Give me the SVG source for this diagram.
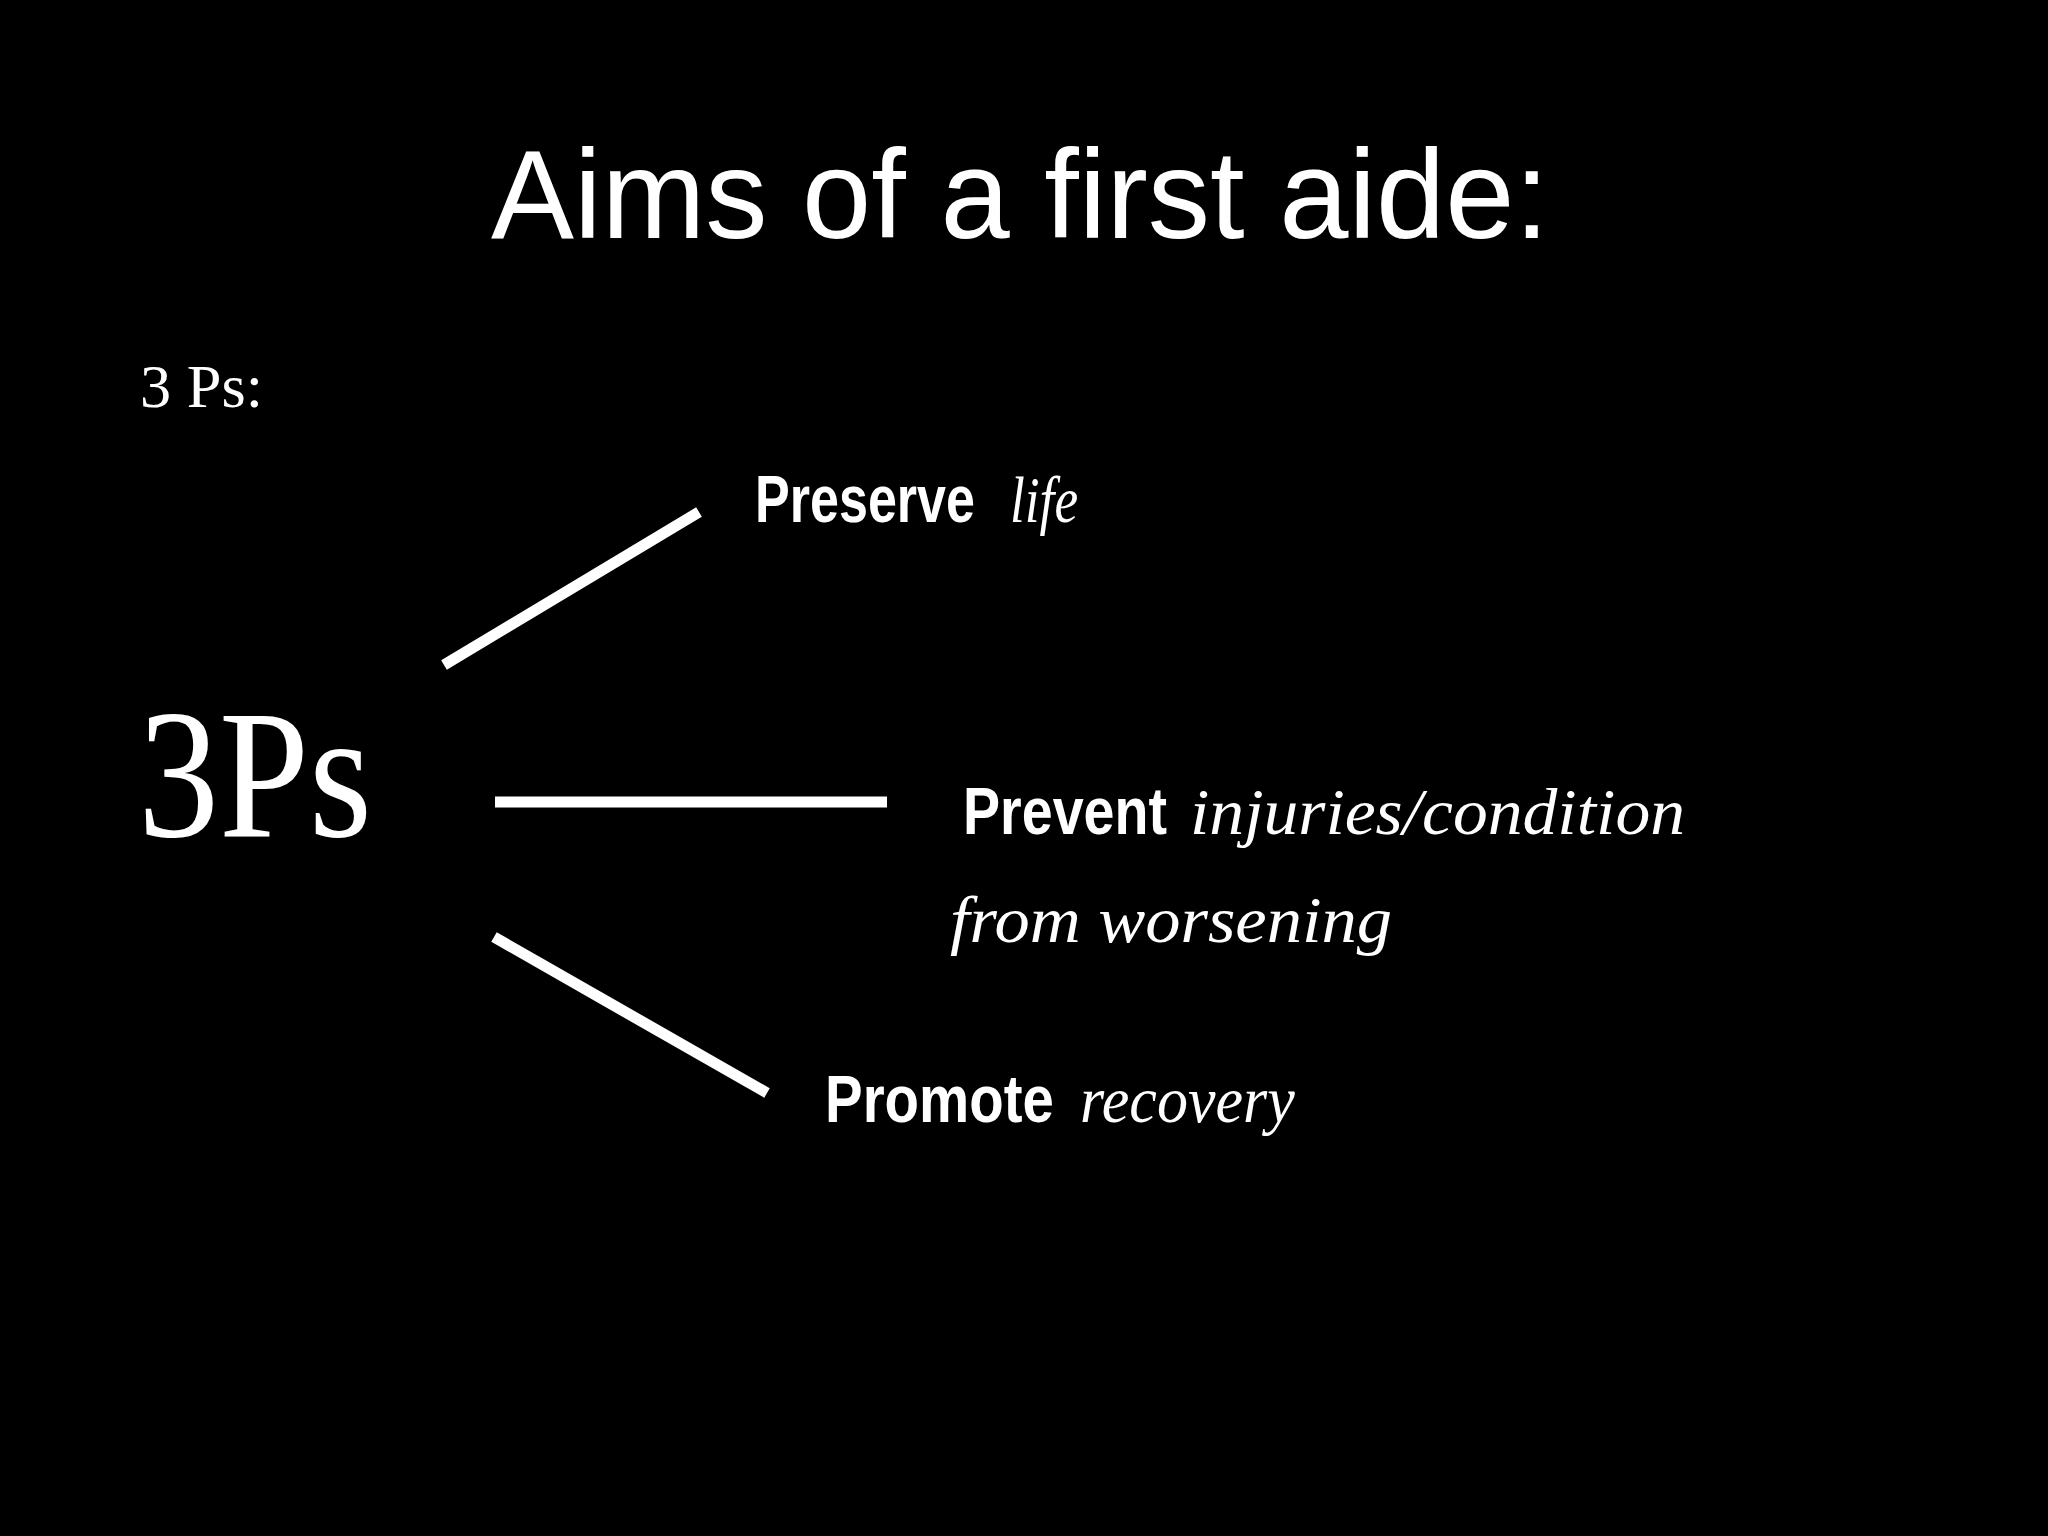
<svg xmlns="http://www.w3.org/2000/svg" width="2048" height="1536" viewBox="0 0 2048 1536">
<style>
.t{fill:#fff;font-family:"Liberation Serif","Times New Roman",serif}
.title{fill:#fff;font-family:"Liberation Sans",Arial,sans-serif;font-size:126px}
.b{fill:#fff;font-family:"Liberation Sans",Arial,sans-serif;font-weight:bold;font-size:66px}
.i{fill:#fff;font-family:"Liberation Serif","Times New Roman",serif;font-style:italic;font-size:66px}
.ln{stroke:#fff;stroke-width:11;fill:none}
</style>
<rect width="2048" height="1536" fill="#000"/>
<g id="title"><text class="title" x="491" y="238" textLength="1058" lengthAdjust="spacingAndGlyphs">Aims of a first aide:</text></g>
<g id="subtitle"><text class="t" x="140" y="407" font-size="62" textLength="123" lengthAdjust="spacingAndGlyphs">3 Ps:</text></g>
<g id="root"><text class="t" x="138" y="836" font-size="184" textLength="234" lengthAdjust="spacingAndGlyphs">3Ps</text></g>
<g id="preserve">
<text class="b" transform="translate(755,522) scale(0.789,1)">Preserve</text>
<text class="i" transform="translate(1010,522) scale(0.807,1)">life</text>
</g>
<g id="prevent">
<text class="b" transform="translate(963,834) scale(0.843,1)">Prevent</text>
<text class="i" x="1190" y="834" textLength="495" lengthAdjust="spacingAndGlyphs">injuries/condition</text>
<text class="i" x="950" y="942" textLength="442" lengthAdjust="spacingAndGlyphs">from worsening</text>
</g>
<g id="promote">
<text class="b" transform="translate(825,1122) scale(0.855,1)">Promote</text>
<text class="i" transform="translate(1080,1122) scale(0.94,1)">recovery</text>
</g>
<g id="connectors">
<line class="ln" x1="444" y1="665" x2="699" y2="512"/>
<line class="ln" x1="495" y1="802" x2="887" y2="802" stroke-width="12"/>
<line class="ln" x1="494" y1="937" x2="767" y2="1093"/>
</g>
</svg>
